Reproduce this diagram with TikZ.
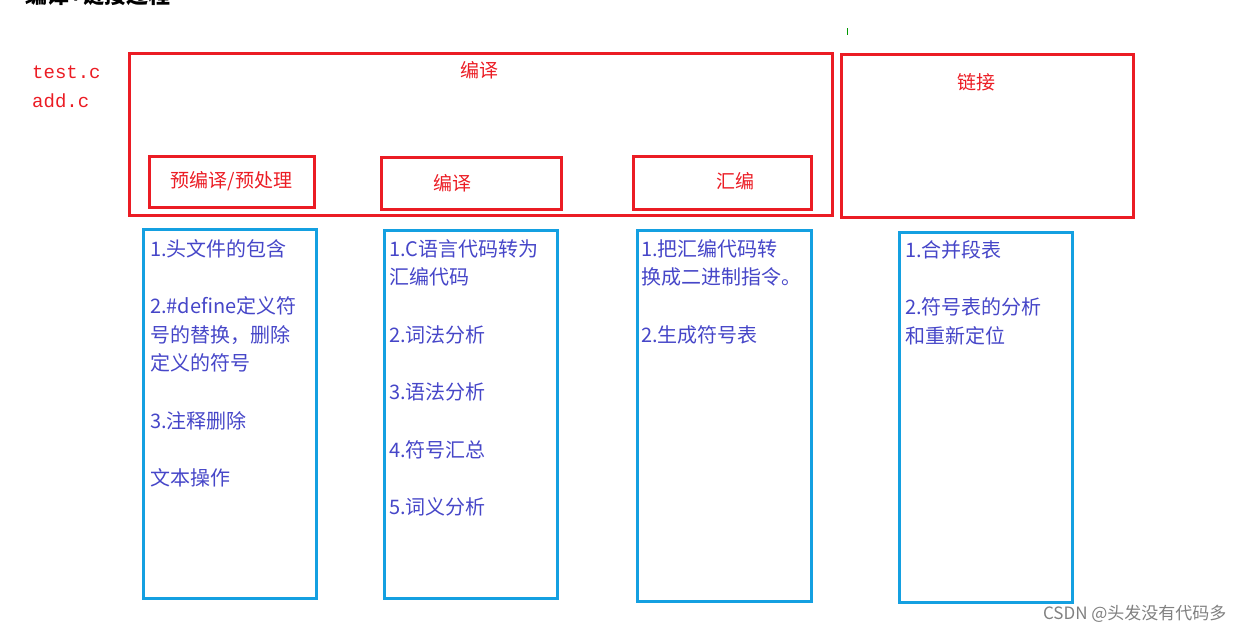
\documentclass[tikz,border=0pt]{standalone}
\usepackage{fontspec}
\setmainfont{Noto Sans CJK SC}
\setmonofont{Liberation Mono}
\definecolor{rbox}{RGB}{235,28,36}
\definecolor{bbox}{RGB}{20,160,225}
\definecolor{btxt}{RGB}{70,70,200}
\begin{document}
\begin{tikzpicture}[x=1pt,y=-1pt,
  redbox/.style={draw=rbox,line width=3pt},
  bluebox/.style={draw=bbox,line width=3pt},
  rt/.style={text=rbox,font=\fontsize{19}{22}\selectfont},
  bt/.style={text=btxt,font=\fontsize{20}{28.5}\selectfont,anchor=north west,align=left,inner sep=0}]
\useasboundingbox (0,0) rectangle (1243,633);
\begin{scope}
\clip (0,0) rectangle (1243,633);
\node[font=\bfseries\fontsize{22}{22}\selectfont,anchor=base west] (title) at (22,3) {编译+链接过程};
\end{scope}
\node[text=rbox,font=\ttfamily\fontsize{19}{29}\selectfont,anchor=north west,align=left,inner sep=0] (files) at (32,66) {test.c\\add.c};
\draw[redbox] (129,53) rectangle (832,215);
\node[rt] (bianyi) at (479,70) {编译};
\draw[redbox] (841,54) rectangle (1133,217);
\node[rt] (link) at (976,82) {链接};
\draw[redbox] (149,156) rectangle node[rt] (pre) {预编译/预处理} (314,207);
\draw[redbox] (381,157) rectangle (561,209);
\node[rt] (comp) at (452,183) {编译};
\draw[redbox] (633,156) rectangle (811,209);
\node[rt] (asm) at (735,181) {汇编};
\draw[green!60!black,line width=0.5pt] (847,28) -- (847,35);
\draw[bluebox] (143,229) rectangle (316,598);
\draw[bluebox] (384,230) rectangle (557,598);
\draw[bluebox] (637,230) rectangle (811,601);
\draw[bluebox] (899,232) rectangle (1072,602);
\node[bt] (t1) at (150,239) {1.头文件的包含\\[29pt]2.\#define定义符\\号的替换，删除\\定义的符号\\[29pt]3.注释删除\\[29pt]文本操作};
\node[bt] (t2) at (389,239) {1.C语言代码转为\\汇编代码\\[29pt]2.词法分析\\[29pt]3.语法分析\\[29pt]4.符号汇总\\[29pt]5.词义分析};
\node[bt] (t3) at (641,239) {1.把汇编代码转\\换成二进制指令。\\[29pt]2.生成符号表};
\node[bt] (t4) at (905,240) {1.合并段表\\[29pt]2.符号表的分析\\和重新定位};
\node[text=gray,font=\fontsize{17}{17}\selectfont,anchor=east] (wm) at (1230,614) {CSDN @头发没有代码多};
\end{tikzpicture}
\end{document}
